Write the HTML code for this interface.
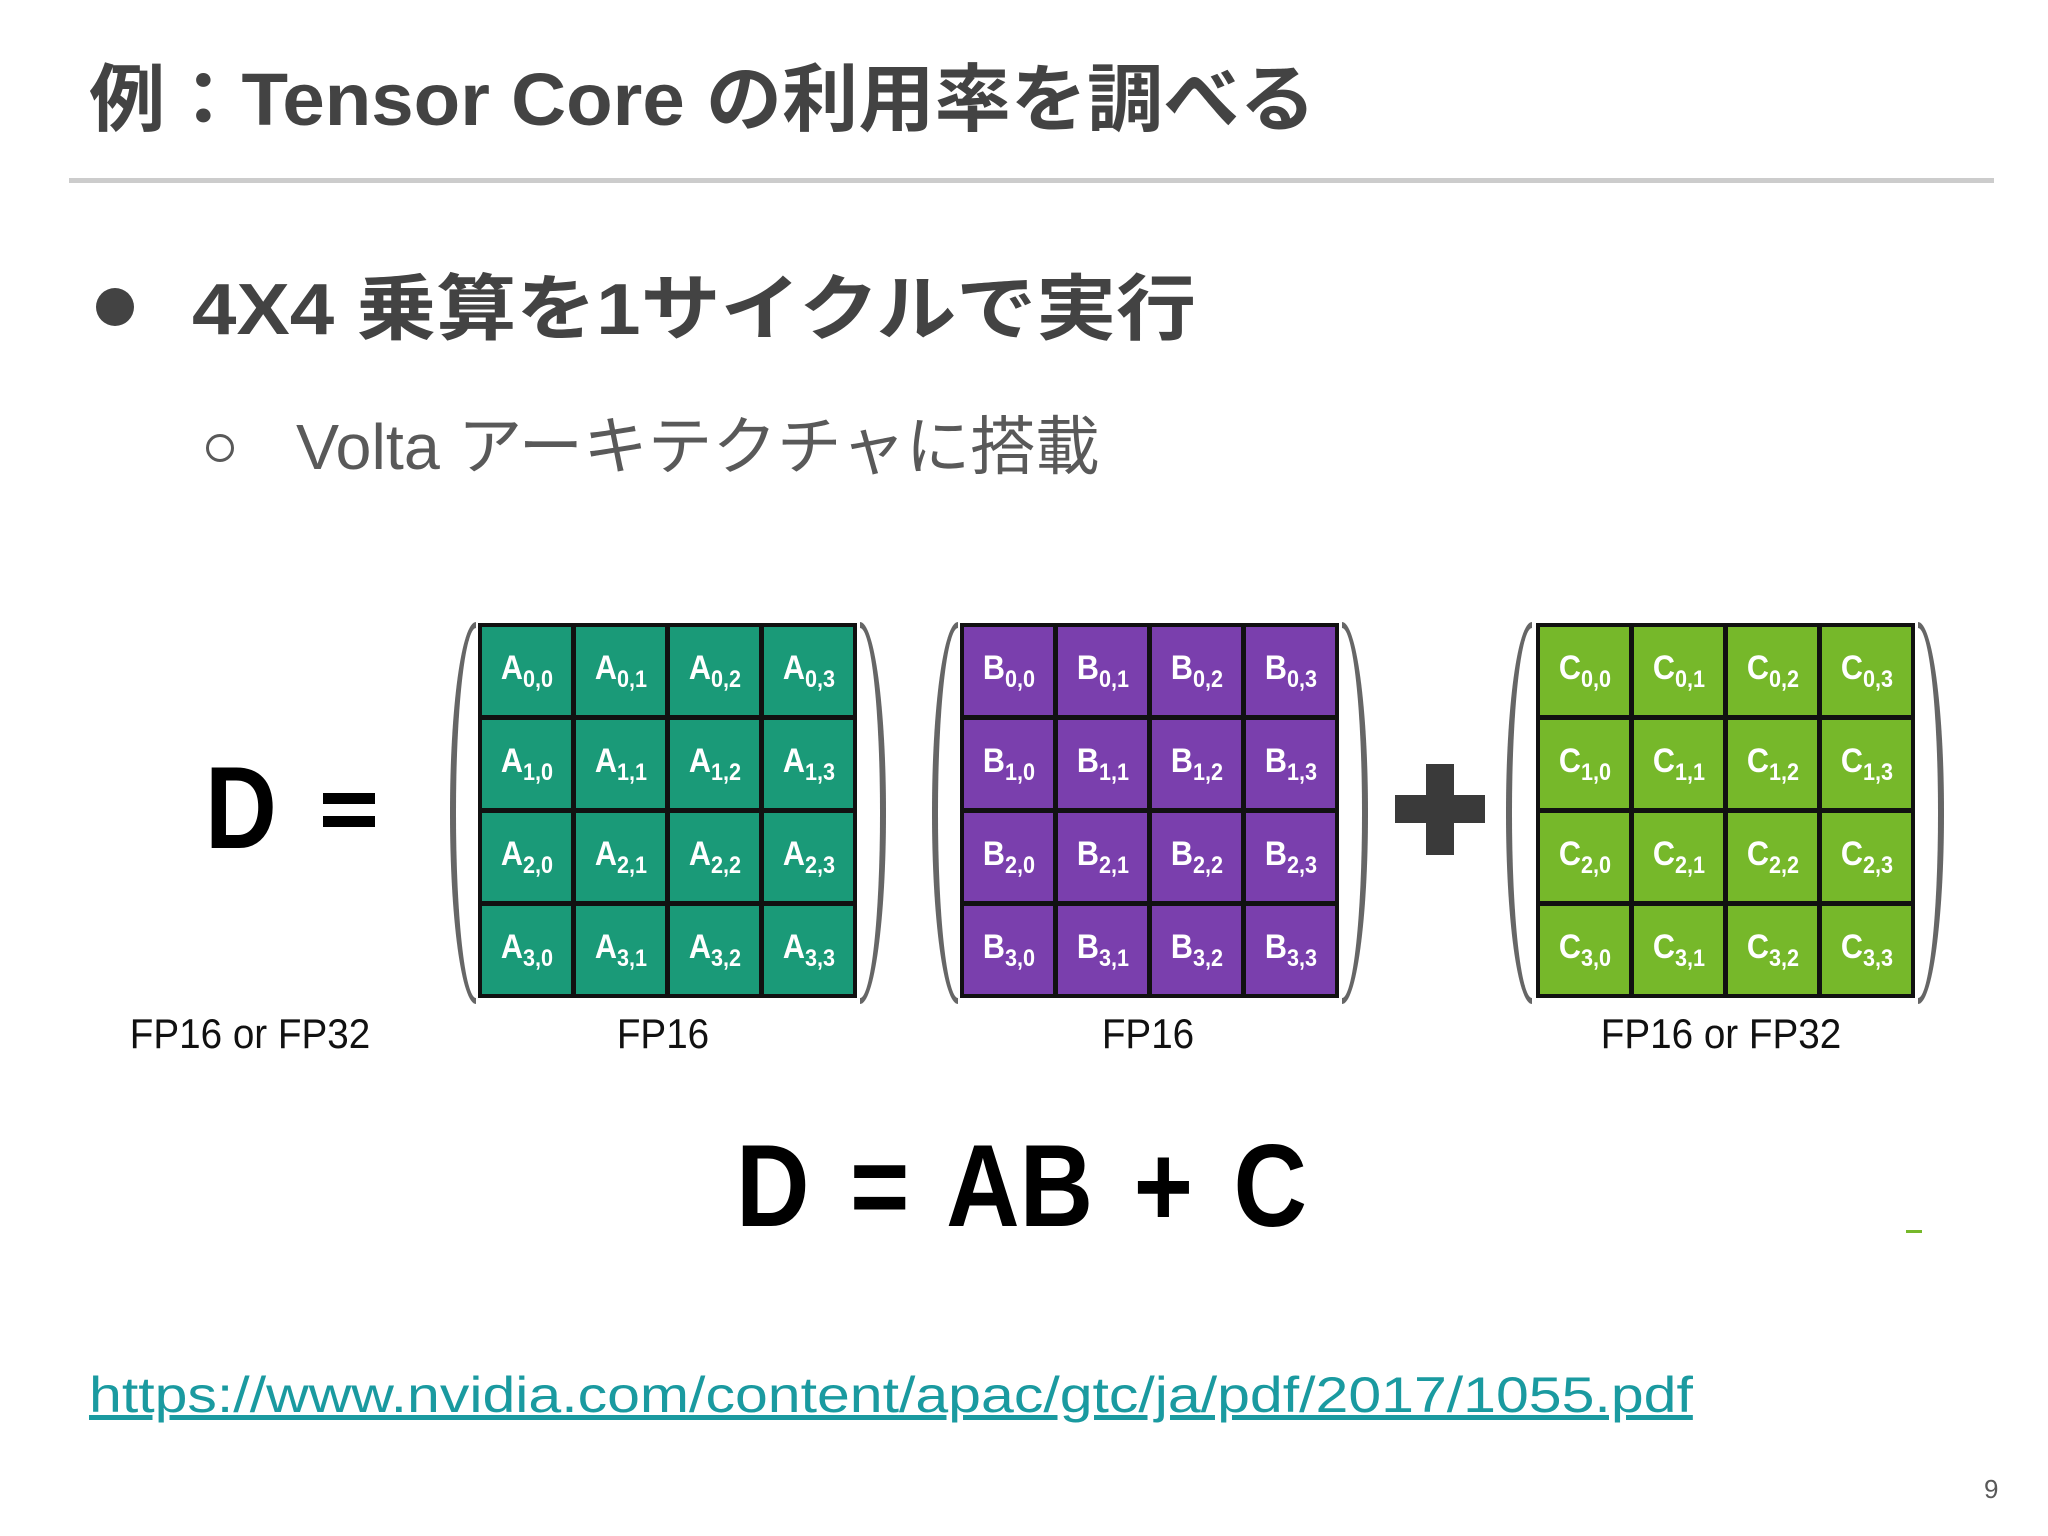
<!DOCTYPE html>
<html><head><meta charset="utf-8"><style>
body{margin:0;width:2048px;height:1536px;background:#fff;position:relative;overflow:hidden;font-family:"Liberation Sans","Noto Sans CJK JP",sans-serif}
.a{position:absolute;white-space:nowrap}
.m{position:absolute;top:623px;width:379px;height:375px;background:#111;display:grid;grid-template-columns:repeat(4,1fr);grid-template-rows:repeat(4,1fr);gap:5px;padding:4px;box-sizing:border-box}
.m div{display:flex;align-items:center;justify-content:center;color:#fff;font-weight:bold;font-size:34px}
.m span{display:inline-block;transform:scaleX(0.9)}
.m sub{font-size:24px;vertical-align:-8px}
.p{position:absolute;top:622px;width:26px;height:382px;box-sizing:border-box;border:6px solid #666}
.pl{border-right:none;border-radius:26px 0 0 26px/190px 0 0 190px}
.pr{border-left:none;border-radius:0 26px 26px 0/0 190px 190px 0}
.lab{position:absolute;top:1010px;font-size:42px;color:#111;transform:translateX(-50%) scaleX(0.92)}
</style></head><body>
<div class="a" style="left:89px;top:40px;font-size:74px;font-weight:bold;color:#434343;transform:scaleX(1.03);transform-origin:left">例：Tensor Core の利用率を調べる</div>
<div class="a" style="left:69px;top:178px;width:1925px;height:5px;background:#cccccc"></div>
<div class="a" style="left:96px;top:288px;width:38px;height:38px;border-radius:50%;background:#434343"></div>
<div class="a" style="left:192px;top:250px;font-size:72px;font-weight:bold;color:#434343;transform:scaleX(1.11);transform-origin:left">4X4 乗算を1サイクルで実行</div>
<div class="a" style="left:206px;top:434px;width:28px;height:28px;border-radius:50%;border:3px solid #595959;box-sizing:border-box"></div>
<div class="a" style="left:296px;top:396px;font-size:64px;color:#595959;transform:scaleX(1.01);transform-origin:left">Volta アーキテクチャに搭載</div>

<div class="a" style="left:205px;top:740px;font-size:117px;font-weight:bold;color:#000;transform:scaleX(0.85);transform-origin:left">D</div>
<div class="a" style="left:323px;top:793px;width:52px;height:11px;background:#000"></div>
<div class="a" style="left:323px;top:816px;width:52px;height:11px;background:#000"></div>

<div class="p pl" style="left:450px"></div><div class="p pr" style="left:860px"></div>
<div class="m" style="left:478px" id="A"></div>
<div class="p pl" style="left:932px"></div><div class="p pr" style="left:1342px"></div>
<div class="m" style="left:960px" id="B"></div>
<div class="p pl" style="left:1506px"></div><div class="p pr" style="left:1918px"></div>
<div class="m" style="left:1536px" id="C"></div>

<div class="a" style="left:1395px;top:795px;width:90px;height:28px;background:#3a3a3a"></div>
<div class="a" style="left:1426px;top:764px;width:28px;height:91px;background:#3a3a3a"></div>

<div class="lab" style="left:250px">FP16 or FP32</div>
<div class="lab" style="left:663px">FP16</div>
<div class="lab" style="left:1148px">FP16</div>
<div class="lab" style="left:1721px">FP16 or FP32</div>

<div class="a" style="left:736px;top:1118px;font-size:117px;font-weight:bold;color:#000;transform:scaleX(0.87);transform-origin:left;word-spacing:14px">D = AB + C</div>
<div class="a" style="left:1906px;top:1230px;width:16px;height:3px;background:#76b82a"></div>

<div class="a" style="left:89px;top:1366px;font-size:50px;color:#1a9aa0;text-decoration:underline;transform:scaleX(1.18);transform-origin:left">https://www.nvidia.com/content/apac/gtc/ja/pdf/2017/1055.pdf</div>
<div class="a" style="left:1984px;top:1474px;font-size:26px;color:#595959">9</div>

<script>
var cfg={A:'#1a9a78',B:'#7a3fad',C:'#76b82a'};
for(var k in cfg){var e=document.getElementById(k),h='';for(var i=0;i<4;i++)for(var j=0;j<4;j++)h+='<div style="background:'+cfg[k]+'"><span>'+k+'<sub>'+i+','+j+'</sub></span></div>';e.innerHTML=h;}
</script>
</body></html>
